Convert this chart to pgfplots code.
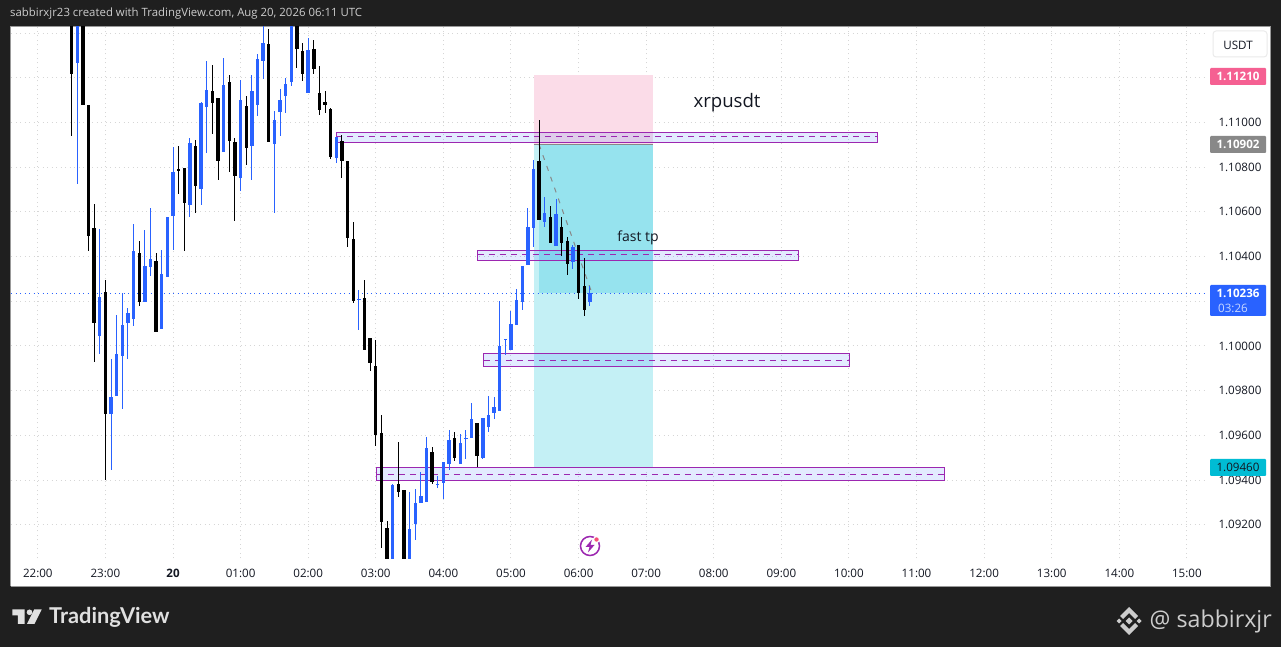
\documentclass[border=0pt]{standalone}
\usepackage{pgfplots}
\usepackage{pgfplotstable}
\usepackage{fontspec}
\pgfplotsset{compat=1.18}
\setmainfont{Open Sans}
\newfontfamily\wm{Lato}
\definecolor{tvbg}{HTML}{1F1F1F}
\definecolor{tvblue}{HTML}{2962FF}
\definecolor{tvgrid}{HTML}{D6D6D6}
\definecolor{tvtext}{HTML}{131722}
\definecolor{tvpurple}{HTML}{9C27B0}
\definecolor{tvpink}{HTML}{FBDCE8}
\definecolor{tvdark}{HTML}{96E3EE}
\definecolor{tvlight}{HTML}{C4F0F5}
\definecolor{zonefill}{HTML}{0050FF}
\definecolor{tvgray}{HTML}{888888}

% t = minutes from 20 Aug 00:00 ; one row per 5-minute candle
\pgfplotstableread{
t o h l c
-85 1.11267 1.11503 1.10726 1.11481
-65 1.10046 1.10523 1.09966 1.10219
-55 1.09697 1.09942 1.09445 1.09772
-50 1.09778 1.10139 1.09778 1.09964
-45 1.09957 1.10237 1.09719 1.10094
-40 1.10104 1.10170 1.09943 1.10148
-35 1.10122 1.10546 1.10091 1.10425
-25 1.10198 1.10519 1.10198 1.10358
-20 1.10355 1.10617 1.10314 1.10389
-10 1.10077 1.10430 1.10077 1.10322
-5 1.10310 1.10577 1.10310 1.10577
0 1.10582 1.10890 1.10430 1.10778
15 1.10631 1.10931 1.10577 1.10908
25 1.10702 1.11092 1.10631 1.11087
30 1.11069 1.11275 1.10863 1.11145
45 1.10868 1.11289 1.10868 1.11168
60 1.10752 1.11190 1.10693 1.11101
70 1.10895 1.11212 1.10743 1.11141
75 1.11078 1.11306 1.11029 1.11284
80 1.11275 1.11481 1.11195 1.11356
90 1.10904 1.11051 1.10595 1.11011
95 1.11047 1.11150 1.10940 1.11101
100 1.11118 1.11199 1.11042 1.11172
105 1.11181 1.11503 1.11163 1.11481
120 1.11132 1.11378 1.11132 1.11324
145 1.10841 1.10935 1.10819 1.10935
165 1.10208 1.10251 1.10072 1.10212
195 1.09020 1.09383 1.09020 1.09378
210 1.09020 1.09347 1.09020 1.09181
215 1.09204 1.09360 1.09132 1.09298
220 1.09298 1.09436 1.09298 1.09329
225 1.09302 1.09593 1.09302 1.09544
235 1.09380 1.09418 1.09365 1.09385
240 1.09387 1.09481 1.09315 1.09481
245 1.09472 1.09624 1.09445 1.09579
255 1.09472 1.09606 1.09472 1.09566
260 1.09586 1.09624 1.09494 1.09590
265 1.09588 1.09745 1.09588 1.09673
275 1.09499 1.09678 1.09494 1.09678
280 1.09638 1.09776 1.09615 1.09691
285 1.09700 1.09772 1.09673 1.09727
290 1.09709 1.10201 1.09709 1.10000
295 1.10029 1.10033 1.09960 1.10033
300 1.09982 1.10157 1.09982 1.10098
305 1.10094 1.10255 1.10094 1.10206
310 1.10197 1.10358 1.10161 1.10358
315 1.10362 1.10617 1.10362 1.10532
320 1.10528 1.10832 1.10443 1.10792
330 1.10555 1.10667 1.10532 1.10595
340 1.10447 1.10658 1.10447 1.10591
355 1.10376 1.10452 1.10345 1.10443
370 1.10197 1.10268 1.10179 1.10237
}\upcandles

\pgfplotstableread{
t o h l c
-90 1.11481 1.11503 1.10941 1.11218
-80 1.11481 1.11481 1.11078 1.11078
-75 1.11078 1.11078 1.10426 1.10493
-70 1.10528 1.10638 1.09930 1.10104
-60 1.10243 1.10295 1.09400 1.09697
-30 1.10416 1.10470 1.10180 1.10198
-15 1.10380 1.10416 1.10064 1.10064
5 1.10792 1.10895 1.10680 1.10784
10 1.10796 1.10796 1.10425 1.10641
20 1.10895 1.10922 1.10595 1.10716
35 1.11141 1.11257 1.10948 1.11087
40 1.11110 1.11110 1.10743 1.10828
50 1.11181 1.11212 1.10778 1.10917
55 1.10913 1.10931 1.10559 1.10761
65 1.11074 1.11118 1.10810 1.10886
85 1.11351 1.11418 1.10913 1.10913
110 1.11481 1.11503 1.11244 1.11329
115 1.11320 1.11356 1.11186 1.11217
125 1.11329 1.11369 1.11217 1.11239
130 1.11132 1.11253 1.11033 1.11056
135 1.11092 1.11141 1.11042 1.11078
140 1.11060 1.11065 1.10837 1.10846
150 1.10917 1.10944 1.10752 1.10828
155 1.10828 1.10828 1.10443 1.10483
160 1.10479 1.10555 1.10192 1.10201
170 1.10215 1.10295 1.09982 1.09982
175 1.10036 1.10036 1.09888 1.09925
180 1.09911 1.10027 1.09553 1.09602
185 1.09611 1.09691 1.09096 1.09213
190 1.09186 1.09217 1.09020 1.09020
200 1.09383 1.09570 1.09324 1.09347
205 1.09356 1.09356 1.09020 1.09020
230 1.09526 1.09548 1.09383 1.09392
250 1.09588 1.09615 1.09486 1.09499
270 1.09655 1.09655 1.09459 1.09508
325 1.10828 1.11011 1.10564 1.10564
335 1.10577 1.10626 1.10461 1.10461
345 1.10532 1.10577 1.10403 1.10461
350 1.10470 1.10488 1.10318 1.10367
360 1.10452 1.10452 1.10210 1.10237
365 1.10268 1.10394 1.10134 1.10161
}\downcandles

\newcommand{\candles}[2]{%
  \addplot[draw=none, mark=none, forget plot,
    error bars/.cd, y dir=both, y explicit, error mark=none,
    error bar style={draw=#2, line width=1pt, solid}]
    table[x=t, y expr=(\thisrow{h}+\thisrow{l})/2,
      y error plus expr=(\thisrow{h}-\thisrow{l})/2,
      y error minus expr=(\thisrow{h}-\thisrow{l})/2] {#1};
  \addplot[draw=none, mark=none, forget plot,
    error bars/.cd, y dir=both, y explicit, error mark=none,
    error bar style={draw=#2, line width=3.4pt, solid}]
    table[x=t, y expr=(\thisrow{o}+\thisrow{c})/2,
      y error plus expr=abs(\thisrow{c}-\thisrow{o})/2,
      y error minus expr=abs(\thisrow{c}-\thisrow{o})/2] {#1};
}
\newcommand{\zone}[5]{%
  \addplot[color=zonefill, draw=none, fill=zonefill, fill opacity=0.11, forget plot]
    coordinates {(#1,#3)(#2,#3)(#2,#4)(#1,#4)} -- cycle;
  \addplot[draw=tvpurple, fill=none, line width=1pt, forget plot]
    coordinates {(#1,#3)(#2,#3)(#2,#4)(#1,#4)} -- cycle;
  \addplot[draw=tvpurple, line width=1pt, dash pattern=on 6pt off 5pt, forget plot]
    coordinates {(#1,#5)(#2,#5)};
}

\begin{document}
\begin{tikzpicture}
\path[use as bounding box] (0,0) rectangle (1281pt,647pt);
\begin{scope}[x=1pt,y=-1pt,yshift=647pt]
  \fill[tvbg] (0,0) rectangle (1281,647);
  \fill[white] (10.5,26.5) rectangle (1270.5,586.5);
  \draw[color=black!40,line width=1pt] (10.5,586.5) -- (1270.5,586.5) -- (1270.5,26.5);
  \draw[color=black!40,line width=1pt] (10.5,586.5) -- (10.5,26.5) -- (1270.5,26.5);
\end{scope}

\begin{axis}[
  at={(11pt,88.5pt)}, anchor=south west,
  scale only axis, width=1196pt, height=531.5pt,
  xmin=-143.8, xmax=917.8, ymin=1.09049, ymax=1.11427,
  axis line style={draw=none},
  major tick length=0pt,
  xtick={-120,-60,0,60,120,180,240,300,360,420,480,540,600,660,720,780,840,900},
  xticklabels={22:00,23:00,\textbf{20},01:00,02:00,03:00,04:00,05:00,06:00,07:00,08:00,09:00,10:00,11:00,12:00,13:00,14:00,15:00},
  ytick={1.092,1.094,1.096,1.098,1.100,1.104,1.106,1.108,1.110},
  extra y ticks={1.102,1.112,1.114},
  extra y tick labels={},
  extra y tick style={grid=major, major tick length=0pt},
  yticklabel pos=right,
  scaled y ticks=false,
  tick label style={font=\fontsize{11.6}{14}\selectfont, text=tvtext},
  yticklabel style={anchor=west, xshift=8pt,
    /pgf/number format/fixed, /pgf/number format/fixed zerofill,
    /pgf/number format/precision=5, /pgf/number format/assume math mode=true,
    /pgf/number format/1000 sep={}},
  xticklabel style={yshift=-7pt},
  grid=major,
  grid style={color=tvgrid, line width=1pt, dash pattern=on 1.2pt off 3.3pt},
  clip=true,
]
% position tool
\addplot[fill=tvpink, draw=none, forget plot] coordinates {(320.4,1.11210)(426,1.11210)(426,1.10902)(320.4,1.10902)} -- cycle;
\addplot[fill=tvlight, draw=none, forget plot] coordinates {(320.4,1.10902)(426,1.10902)(426,1.09460)(320.4,1.09460)} -- cycle;
\addplot[fill=tvdark, draw=none, forget plot] coordinates {(324.9,1.10902)(426,1.10902)(426,1.10236)(324.9,1.10236)} -- cycle;
\addplot[color=tvgray, line width=1.2pt, forget plot] coordinates {(320.4,1.10902)(426,1.10902)};
\addplot[color=tvgray, line width=1pt, dash pattern=on 5pt off 6.5pt, forget plot] coordinates {(324.9,1.10902)(371.9,1.10236)};
% zones
\zone{145.1}{625.3}{1.10957}{1.10910}{1.10935}
\zone{270.7}{555.6}{1.10427}{1.10382}{1.10407}
\zone{276}{600.4}{1.09966}{1.09906}{1.09937}
\zone{181}{685.2}{1.09456}{1.09398}{1.09427}
% last price line
\addplot[color=tvblue, line width=1pt, dash pattern=on 1.2pt off 3.3pt, forget plot] coordinates {(-143.8,1.10236)(917.8,1.10236)};
% candles
\candles{\downcandles}{black}
\candles{\upcandles}{tvblue}
\end{axis}

\begin{scope}[x=1pt,y=-1pt,yshift=647pt]
  \tikzset{lab/.style={inner sep=0pt, font=\fontsize{11.6}{14}\selectfont}}
  % header
  \node[inner sep=0pt, font=\fontsize{11.4}{14}\selectfont, anchor=west, text=black!20] at (10,14) {sabbirxjr23 created with TradingView.com, Aug 20, 2026 06:11 UTC};
  % drawing texts
  \node[inner sep=0pt, font=\fontsize{18.6}{20}\selectfont, text=tvtext] at (727,102.5) {xrpusdt};
  \node[inner sep=0pt, font=\fontsize{14}{16}\selectfont, text=tvtext] at (638,238) {fast tp};
  % USDT button
  \draw[draw=black!8, fill=white, rounded corners=3pt, line width=1pt] (1213,31) rectangle (1267,57);
  \node[lab, text=tvtext] at (1238,45) {USDT};
  % price labels
  \fill[fill={rgb,255:red,245;green,96;blue,146}, rounded corners=1pt] (1210,68) rectangle (1266,85);
  \node[lab, text=white, font=\fontsize{11.6}{14}\selectfont\bfseries] at (1238,76.5) {1.11210};
  \fill[fill=tvgray, rounded corners=1pt] (1210,136) rectangle (1266,153);
  \node[lab, text=white, font=\fontsize{11.6}{14}\selectfont\bfseries] at (1238,144.5) {1.10902};
  \fill[fill=tvblue, rounded corners=1pt] (1210,285) rectangle (1266,316);
  \node[lab, text=white, font=\fontsize{11.6}{14}\selectfont\bfseries] at (1238,293.5) {1.10236};
  \node[lab, text=white!75!tvblue] at (1233,308) {03:26};
  \fill[fill={rgb,255:red,0;green,188;blue,212}, rounded corners=1pt] (1210,459) rectangle (1266,476);
  \node[lab, text=tvtext] at (1238,467.5) {1.09460};
  % lightning icon
  \draw[color=tvpurple, line width=1.5pt] (590,546) circle (9.5);
  \fill[color=tvpurple] (592,539.5) -- (585.5,547) -- (589.5,547) -- (588,552.5) -- (594.5,545) -- (590.5,545) -- cycle;
  \fill[white] (596.5,539.5) circle (3.5);
  \fill[color={rgb,255:red,245;green,80;blue,120}] (596.5,539.5) circle (2.2);
  % TradingView logo
  \fill[color=black!12] (12.3,609.5) -- (24.5,609.5) -- (24.5,624) -- (17.8,624) -- (17.8,615.5) -- (12.3,615.5) -- cycle;
  \fill[color=black!12] (29.5,612.3) circle (2.8);
  \fill[color=black!12] (41.7,609.5) -- (34.5,624) -- (27,624) -- (34.2,609.5) -- cycle;
  \node[inner sep=0pt, anchor=west, text=black!12, font=\wm\bfseries\fontsize{21.8}{24}\selectfont] at (49,617) {TradingView};
  % Binance logo and handle
  \fill[color=black!20] (1129,607) -- (1138,616) -- (1135,619) -- (1129,613) -- (1123,619) -- (1120,616) -- cycle;
  \fill[color=black!20] (1129,635) -- (1138,626) -- (1135,623) -- (1129,629) -- (1123,623) -- (1120,626) -- cycle;
  \fill[color=black!20] (1129,617.5) -- (1132.5,621) -- (1129,624.5) -- (1125.5,621) -- cycle;
  \fill[color=black!20] (1119,618.5) -- (1121.5,621) -- (1119,623.5) -- (1116.5,621) -- cycle;
  \fill[color=black!20] (1139,618.5) -- (1141.5,621) -- (1139,623.5) -- (1136.5,621) -- cycle;
  \node[inner sep=0pt, anchor=east, text=black!20, font=\fontsize{23.2}{28}\selectfont] at (1272,621) {@ sabbirxjr};
\end{scope}
\end{tikzpicture}
\end{document}
